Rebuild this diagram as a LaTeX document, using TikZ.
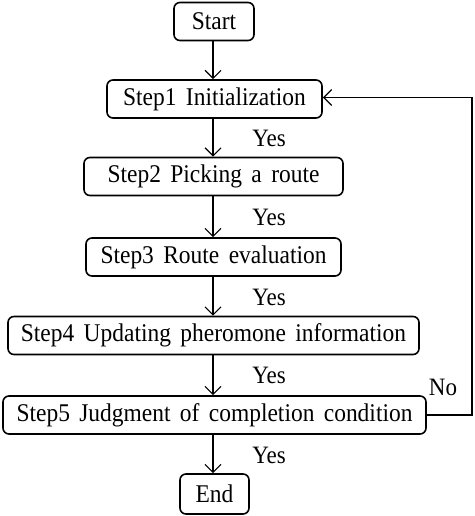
\documentclass[tikz,border=0pt]{standalone}
\usepackage{fontspec}
\setmainfont{Liberation Serif}[WordSpace=1.6, FakeStretch=0.92]
\usetikzlibrary{arrows.meta}
\tikzset{
  stepbox/.style={draw=black, line width=1.6pt, rounded corners=6pt, fill=white,
    minimum height=38pt, inner sep=0pt, font=\fontsize{25.5}{28}\selectfont},
  flow/.style={draw=black, line width=1.2pt, -{Straight Barb[length=8pt,width=16pt,line width=1.2pt]}},
  lbl/.style={font=\fontsize{25}{28}\selectfont, inner sep=0pt}
}
\begin{document}
\begin{tikzpicture}[x=1pt,y=-1pt]
\useasboundingbox (0,0) rectangle (474,516);
\node[stepbox, minimum width=80pt] (start) at (214,21.5) {Start};
\node[stepbox, minimum width=215pt] (s1) at (214.5,99) {Step1 Initialization};
\node[stepbox, minimum width=259pt] (s2) at (213.5,176.5) {Step2 Picking a route};
\node[stepbox, minimum width=255pt] (s3) at (213.5,257) {Step3 Route evaluation};
\node[stepbox, minimum width=411pt] (s4) at (213.5,335.5) {Step4 Updating pheromone information};
\node[stepbox, minimum width=423pt] (s5) at (214.5,415) {Step5 Judgment of completion condition};
\node[stepbox, minimum width=69pt, minimum height=40pt] (end) at (214.5,494) {End};
\coordinate (c1) at (472,415);
\coordinate (c2) at (472,97.5);
\draw[flow] (start.south -| 213,0) -- (s1.north -| 213,0);
\draw[flow] (s1.south -| 213,0) -- (s2.north -| 213,0);
\draw[flow] (s2.south -| 213,0) -- (s3.north -| 213,0);
\draw[flow] (s3.south -| 213,0) -- (s4.north -| 213,0);
\draw[flow] (s4.south -| 213,0) -- (s5.north -| 213,0);
\draw[flow] (s5.south -| 213,0) -- (end.north -| 213,0);
\draw[flow] (s5.east |- c1) -- (c1) -- (c2) -- (s1.east |- c2);
\node[lbl] (y1) at (269,138) {Yes};
\node[lbl] (y2) at (269,217) {Yes};
\node[lbl] (y3) at (269,297) {Yes};
\node[lbl] (y4) at (269,375) {Yes};
\node[lbl] (y5) at (269,455) {Yes};
\node[lbl] (no) at (443,387) {No};
\end{tikzpicture}
\end{document}
